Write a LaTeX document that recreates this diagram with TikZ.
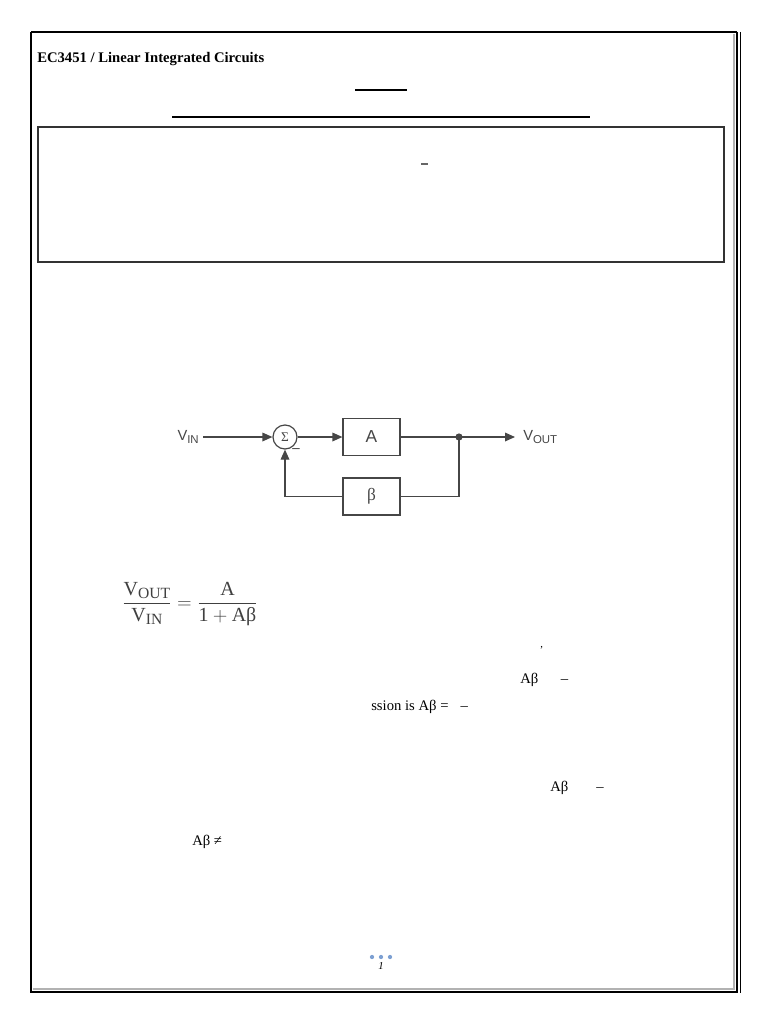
\documentclass[tikz,border=0pt]{standalone}
\usepackage{fontspec}
\usepackage{amsmath}
\setmainfont{Liberation Serif}
\setsansfont{Liberation Sans}
\usetikzlibrary{arrows.meta, positioning, calc}
\definecolor{diagray}{RGB}{70,70,70}
\definecolor{dotblue}{RGB}{125,160,210}
\newcommand{\lowsub}[1]{\raisebox{-0.3ex}{\scalebox{0.78}{#1}}}

\begin{document}
\begin{tikzpicture}[
    x=0.75pt, y=-0.75pt,
    blk/.style={rectangle, draw=diagray, line width=0.9pt, minimum width=42.75pt, minimum height=27.75pt, inner sep=0pt, text=diagray, font=\sffamily\fontsize{13}{14}\selectfont},
    sumnode/.style={circle, draw=diagray, line width=0.9pt, minimum size=18pt, inner sep=0pt, text=diagray, font=\fontsize{10}{12}\selectfont},
    sig/.style={-{Triangle[length=7.5pt, width=6.5pt]}, line width=0.9pt, color=diagray},
    wire/.style={line width=0.9pt, color=diagray},
    lbl/.style={inner sep=0pt, text=diagray, font=\sffamily\fontsize{11}{12}\selectfont},
    txt/.style={anchor=base west, inner sep=0pt, font=\fontsize{11}{13}\selectfont}
]
\useasboundingbox (0,0) rectangle (768,1024);

% page frame
\draw[line width=1.5pt] (31,32) -- (737,32);
\draw[line width=1.5pt] (31,32) -- (31,993);
\draw[line width=2.2pt] (30,992) -- (738,992);
\draw[line width=1.2pt] (737,32) -- (737,993);
\draw[black!30, line width=1pt] (734,34) -- (734,989) -- (33,989);
\draw[line width=0.6pt] (740,32) -- (740,993);

% header
\node (hdr) [anchor=base west, inner sep=0pt, font=\bfseries\fontsize{11}{13}\selectfont] at (37,63) {EC3451 / Linear Integrated Circuits};
\draw[line width=1.2pt] (355,90) -- (407,90);
\draw[line width=1.2pt] (172,117) -- (590,117);

% definition box
\draw[black!80, line width=0.8pt] (38,127) rectangle (724,262);
\draw[black!60, line width=1.3pt] (421,164) -- (428,164);

% block diagram
\node (vin) [lbl, anchor=east] at (199,437) {V\lowsub{IN}};
\node (sum) [sumnode] at (285,437) {Σ};
\node (ampA) [blk] at (371.5,437) {A};
\coordinate (tap) at (459,437);
\node (vout) [lbl, anchor=west] at (523,437) {V\lowsub{OUT}};
\node (fb) [blk, font=\fontsize{13}{14}\selectfont] at (371.5,496.5) {β};
\node (minus) [lbl, font=\bfseries\fontsize{11}{12}\selectfont] at (296,451) {–};

\draw[sig, shorten <=3pt] (vin) -- (sum);
\draw[sig] (sum) -- (ampA);
\draw[wire] (ampA) -- (tap);
\fill[diagray] (tap) circle (2.7pt);
\draw[sig, shorten >=6pt] (tap) -- (vout);
\draw[wire] (tap) |- (fb);
\draw[sig] (fb) -| (sum);

% closed loop gain
\node (gain) [text=black!75, font=\fontsize{15}{18}\selectfont] at (190,604)
    {$\dfrac{\text{V\lowsub{OUT}}}{\text{V\lowsub{IN}}}=\dfrac{\text{A}}{\text{1}+\text{Aβ}}$};

% remaining text fragments
\node (comma) [txt, font=\fontsize{8}{9}\selectfont] at (540,647) {,};
\node (t1) [txt] at (520,683) {Aβ\hspace{17pt}–};
\node (t2) [txt] at (371,710) {ssion is Aβ =\hspace{9pt}–};
\node (t3) [txt] at (550,791) {Aβ\hspace{21pt}–};
\node (t4) [txt] at (192,845) {Aβ ≠};

% page number
\foreach \px in {372,381,390}
    \fill[dotblue] (\px,957) circle (1.6pt);
\node (pg) [inner sep=0pt, font=\itshape\fontsize{8}{9}\selectfont] at (381,966) {1};
\end{tikzpicture}
\end{document}
